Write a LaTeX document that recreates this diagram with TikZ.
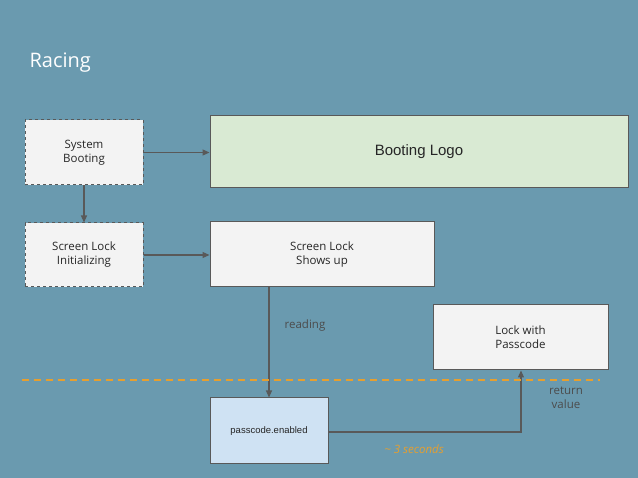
\documentclass[tikz,border=0pt]{standalone}
\usepackage{fontspec}
\setmainfont{Open Sans}
\newfontfamily\arialf{Liberation Sans}
\usetikzlibrary{arrows.meta}
\definecolor{bg}{HTML}{6A9AAF}
\definecolor{ln}{HTML}{595959}
\definecolor{box}{HTML}{F3F3F3}
\definecolor{grn}{HTML}{D9EAD3}
\definecolor{blu}{HTML}{CFE2F3}
\definecolor{org}{HTML}{E69F2F}
\begin{document}
\begin{tikzpicture}[x=1pt,y=-1pt,
  b/.style={draw=ln,line width=1pt,fill=box,font=\fontsize{11.5}{14}\selectfont,text=black!85,align=center,inner sep=0},
  dsh/.style={b,dashed},
  ar/.style={draw=ln,line width=1.2pt,-{Triangle[length=7pt,width=6pt]}},
  lab/.style={font=\fontsize{11.5}{14}\selectfont,text=black!70,align=center}]
\fill[bg] (0,0) rectangle (638,478);
\useasboundingbox (0,0) rectangle (638,478);
\node[anchor=west,text=white,font=\fontsize{20}{24}\selectfont] (t) at (26,63) {Racing};
\node[dsh,minimum width=118pt,minimum height=65pt] (sb) at (84,152.5) {System\\Booting};
\node[b,fill=grn,minimum width=418pt,minimum height=72pt,font=\arialf\fontsize{15}{18}\selectfont] (bl) at (419,152) {Booting Logo};
\node[dsh,minimum width=118pt,minimum height=64pt] (si) at (84,255) {Screen Lock\\Initializing};
\node[b,minimum width=224pt,minimum height=65pt] (ss) at (322,254.5) {Screen Lock\\Shows up};
\node[b,minimum width=175pt,minimum height=65pt] (lp) at (520.5,337.5) {Lock with\\Passcode};
\node[b,fill=blu,minimum width=118pt,minimum height=66pt,font=\arialf\fontsize{9.5}{12}\selectfont] (pe) at (269,431) {passcode.enabled};
\draw[ar] (sb.east) -- (bl.west|-sb.east);
\draw[ar] (sb.south) -- (si.north);
\draw[ar] (si.east) -- (ss.west|-si.east);
\draw[ar] (ss.south-|pe.north) -- (pe.north);
\coordinate (c) at (521,432);
\draw[ar] (pe.east|-c) -- (c) -- (c|-lp.south);
\coordinate (d1) at (22,380); \coordinate (d2) at (600,380);
\draw[org,dashed,line width=1.5pt,dash pattern=on 7pt off 5pt] (d1) -- (d2);
\node[lab] (r) at (305,326) {reading};
\node[lab] (rv) at (566,398) {return\\value};
\node[font=\itshape\fontsize{11.5}{14}\selectfont,text=org] (s3) at (414,449) {\textasciitilde{} 3 seconds};
\end{tikzpicture}
\end{document}
